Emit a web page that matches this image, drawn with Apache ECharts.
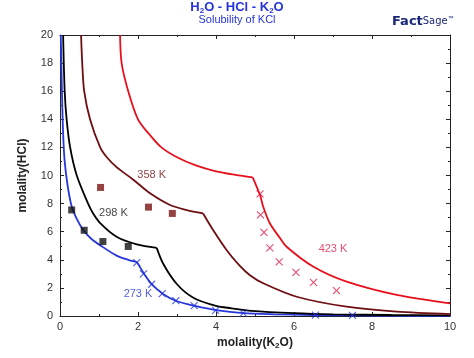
<!DOCTYPE html>
<html><head><meta charset="utf-8">
<script src="https://cdn.jsdelivr.net/npm/echarts@6/dist/echarts.min.js"></script>
<style>html,body{margin:0;padding:0;background:#fff}#c{width:474px;height:358px}</style>
</head><body><div id="c"></div>
<script>
// Calculated solubility curves [molality(K2O), molality(HCl)], split at the kink
const curve273Upper = [[0.02,20],[0.05,16],[0.08,13],[0.12,11],[0.2,9.2],[0.3,7.8],[0.45,6.8],[0.6,6.1],[0.8,5.5],[1.05,5.0],[1.45,4.3],[1.75,4.0],[1.97,3.85]];
const curve273Lower = [[1.97,3.85],[2.18,2.9],[2.35,2.26],[2.65,1.55],[3.0,1.05],[3.46,0.72],[4.0,0.42],[4.7,0.2],[5.5,0.12],[6.5,0.07],[7.5,0.04],[8.5,0.02],[10,0.01]];
const curve298Upper = [[0.08,20],[0.12,16],[0.17,14],[0.26,12],[0.43,10],[0.72,8],[0.85,7.3],[1.05,6.55],[1.45,5.64],[1.97,5.1],[2.48,4.85]];
const curve298Lower = [[2.48,4.85],[2.65,3.7],[3.0,2.26],[3.42,1.3],[4.0,0.72],[4.4,0.55],[4.9,0.37],[6.0,0.2],[7.0,0.12],[8.5,0.07],[10,0.04]];
const curve358Upper = [[0.54,20],[0.57,18],[0.62,16],[0.77,14],[1.03,12],[1.2,11.3],[1.45,10.6],[1.88,9.7],[2.31,8.73],[2.82,7.9],[3.25,7.54],[3.67,7.3]];
const curve358Lower = [[3.67,7.3],[3.93,6.1],[4.27,4.7],[4.6,3.6],[4.87,2.9],[5.21,2.33],[6.07,1.37],[7.35,0.66],[8.63,0.31],[10,0.14]];
const curve423Upper = [[1.54,20],[1.58,18],[1.75,16],[2.0,14],[2.3,12.9],[2.6,12],[3.0,11.3],[3.5,10.7],[4.0,10.3],[4.5,10.05],[4.94,9.87]];
const curve423Lower = [[4.94,9.87],[5.13,8.6],[5.21,7.78],[5.38,6.6],[5.64,5.55],[5.81,4.93],[6.5,3.5],[7.35,2.44],[8.63,1.5],[10,0.9]];
// Experimental points
const exp273 = [[1.97,3.8],[2.14,3.0],[2.35,2.26],[2.62,1.6],[2.97,1.1],[3.44,0.74],[3.99,0.4],[4.7,0.2],[6.55,0.06],[7.5,0.04]];
const exp298 = [[0.3,7.55],[0.62,6.1],[1.1,5.3],[1.75,4.95]];
const exp358 = [[1.04,9.15],[2.27,7.75],[2.88,7.3]];
const exp423 = [[5.13,8.7],[5.14,7.2],[5.23,5.95],[5.38,4.85],[5.62,3.85],[6.05,3.1],[6.5,2.4],[7.09,1.8]];
// Curve labels
const labels273 = [[2.0,1.55,'273 K']];
const labels298 = [[1.37,7.3,'298 K']];
const labels358 = [[2.35,10.05,'358 K']];
const labels423 = [[7.0,4.75,'423 K']];

const C_BLUE='#2636dc', C_BLACK='#000000', C_DRED='#6e0e12', C_RED='#e8101c', C_PINK='#e0204a';
const FONT='Liberation Sans, Arial, sans-serif';
const cross='path://M0,0L10,10M10,0L0,10';

function lineS(d,c){return {type:'line',data:d,showSymbol:false,symbol:'none',smooth:0.3,lineStyle:{color:c,width:1.8},z:3,animation:false};}
function crossS(d,c){return {type:'scatter',data:d,symbol:cross,symbolSize:7,itemStyle:{color:'rgba(0,0,0,0)',borderColor:c,borderWidth:1.1},z:4,animation:false};}
function sqS(d,c){return {type:'scatter',data:d,symbol:'rect',symbolSize:7,itemStyle:{color:c},z:4,animation:false};}
function labS(d,c){return {type:'scatter',data:d,symbolSize:0,label:{show:true,position:'inside',formatter:p=>p.data[2],color:c,fontSize:11,fontFamily:FONT},z:5,animation:false};}

const axisCommon = {
  axisLine:{show:true,onZero:false,lineStyle:{color:'#222',width:1}},
  axisTick:{show:true,inside:true,length:4,lineStyle:{color:'#222'}},
  minorTick:{show:true,splitNumber:2,length:2,lineStyle:{color:'#222'}},
  splitLine:{show:false}
};

const chart = echarts.init(document.getElementById('c'),null,{renderer:'canvas'});
chart.setOption({
  animation:false,
  backgroundColor:'#fff',
  title:[{
    text:'{m|H}{s|2}{m|O - HCl - K}{s|2}{m|O}',
    left:'center', top:0, padding:0,
    textStyle:{rich:{m:{fontSize:13,fontWeight:'bold',color:C_BLUE,fontFamily:FONT},s:{fontSize:8,fontWeight:'bold',color:C_BLUE,fontFamily:FONT,padding:[7,0,0,0]}}}
  },{
    text:'Solubility of KCl', left:'center', top:14, padding:0,
    textStyle:{fontSize:11,fontWeight:'normal',color:C_BLUE,fontFamily:FONT}
  }],
  graphic:[{
    type:'text', left:392, top:15,
    style:{text:'{f|Fact}{g|Sage}{t|™}',rich:{f:{fontSize:13,fontWeight:900,fill:'#1a2778',fontFamily:'DejaVu Sans, sans-serif'},g:{fontSize:11,fill:'#1a2778',fontFamily:'DejaVu Sans Condensed, Liberation Sans Narrow, sans-serif'},t:{fontSize:6,fill:'#1a2778',padding:[0,0,6,0]}}}
  }],
  grid:{left:60,right:24,top:35,bottom:42},
  xAxis:[Object.assign({type:'value',min:0,max:10,interval:2,position:'bottom',
      name:'molality(K{s|2}O)',nameLocation:'middle',nameGap:20,
      nameTextStyle:{fontSize:12,fontWeight:'bold',color:'#222',fontFamily:FONT,rich:{s:{fontSize:8,fontWeight:'bold',color:'#222',padding:[6,0,0,0]}}},
      axisLabel:{color:'#333',fontSize:11,fontFamily:FONT,margin:5}},axisCommon),
    Object.assign({type:'value',min:0,max:10,interval:2,position:'top',axisLabel:{show:false}},axisCommon)],
  yAxis:[Object.assign({type:'value',min:0,max:20,interval:2,position:'left',
      name:'molality(HCl)',nameLocation:'middle',nameGap:31,
      nameTextStyle:{fontSize:12,fontWeight:'bold',color:'#222',fontFamily:FONT},
      axisLabel:{color:'#333',fontSize:11,fontFamily:FONT,margin:7}},axisCommon),
    Object.assign({type:'value',min:0,max:20,interval:2,position:'right',axisLabel:{show:false}},axisCommon)],
  series:[
    lineS(curve273Upper,C_BLUE), lineS(curve273Lower,C_BLUE),
    lineS(curve298Upper,C_BLACK), lineS(curve298Lower,C_BLACK),
    lineS(curve358Upper,C_DRED), lineS(curve358Lower,C_DRED),
    lineS(curve423Upper,C_RED), lineS(curve423Lower,C_RED),
    crossS(exp273,C_BLUE), sqS(exp298,'#111'), sqS(exp358,'#7a1410'), crossS(exp423,C_PINK),
    labS(labels273,C_BLUE), labS(labels298,'#111'), labS(labels358,C_DRED), labS(labels423,C_PINK)
  ]
});
</script></body></html>
